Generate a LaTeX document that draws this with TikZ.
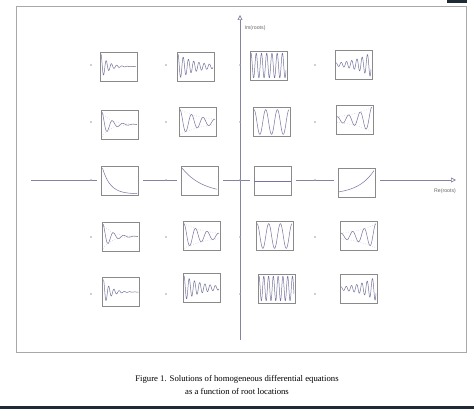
\documentclass[tikz,border=0pt]{standalone}
\usepackage{fontspec}
\setmainfont{Liberation Serif}
\newfontfamily\lsans{Liberation Sans}
\usetikzlibrary{arrows.meta}
\definecolor{framec}{HTML}{A8A8A8}
\definecolor{boxc}{HTML}{8A8A8A}
\definecolor{wavec}{HTML}{74749E}
\definecolor{envc}{HTML}{B8B8B8}
\definecolor{axisc}{HTML}{8484A0}
\definecolor{dotc}{HTML}{A0A0A0}
\definecolor{darkc}{HTML}{1E2A36}
\tikzset{
  wbox/.style={draw=boxc, fill=white, line width=0.8pt, minimum width=37pt, minimum height=29pt, inner sep=0pt,
    preaction={draw=white, line width=9pt}},
  wave/.style={draw=wavec, line width=0.5pt, line join=round},
  envl/.style={draw=envc, line width=0.5pt, dotted},
  axisl/.style={draw=axisc, line width=0.7pt},
  rdot/.style={circle, fill=dotc, inner sep=0pt, minimum size=1.8pt},
  axlabel/.style={font=\lsans\fontsize{5.2}{6}\selectfont, text=black!60, inner sep=0pt}
}
% #1 cx, #2 cy, #3 sigma, #4 omega, #5 shift
\newcommand\wv[5]{\draw[wave] plot[domain=0:1,samples=260] ({#1-17.5+35*\x},{#2-12.3*exp(#3*(\x-#5))*cos(deg(#4*\x))});}
\newcommand\envl[4]{%
  \draw[envl] plot[domain=0:1,samples=40] ({#1-17.5+35*\x},{#2-12.3*exp(#3*(\x-#4))});
  \draw[envl] plot[domain=0:1,samples=40] ({#1-17.5+35*\x},{#2+12.3*exp(#3*(\x-#4))});}
\begin{document}
\begin{tikzpicture}[x=1pt,y=-1pt]
\useasboundingbox (0,0) rectangle (474,409);
\fill[white] (0,0) rectangle (474,409);
\fill[darkc] (0,405.5) rectangle (474,409);
\fill[darkc] (447,0) rectangle (467,3);
% frame
\draw[framec, line width=1pt] (16,7) rectangle (466,352);
% axes
\coordinate (xs) at (31,180);
\coordinate (xe) at (456,180);
\coordinate (ys) at (240,340);
\coordinate (ye) at (240,15);
\draw[axisl, -{Triangle[open, length=5pt, width=5pt]}] (xs) -- (xe);
\draw[axisl, -{Triangle[open, length=5pt, width=5pt]}] (ys) -- (ye);
\node[axlabel, anchor=west] (imlab) at (244.5,28) {Im(roots)};
\node[axlabel] (relab) at (445,191) {Re(roots)};
% dots
\foreach \xx in {91,166,240,315}{
  \foreach \yy in {65,122,180,237,294}{
    \node[rdot] at (\xx,\yy) {};
  }
}
% row 1
\node[wbox] (b11) at (118.5,66.5) {};
\node[wbox] (b12) at (195.5,66.5) {};
\node[wbox] (b13) at (268.5,65.5) {};
\node[wbox] (b14) at (353.5,64.5) {};
\wv{118.5}{66.5}{-5}{42}{0}
\wv{195.5}{66.5}{-1.8}{42}{0}
\wv{268.5}{65.5}{0}{42}{0}
\wv{353.5}{64.5}{2}{42}{1}
% row 2
\node[wbox] (b21) at (119.5,124.5) {};
\node[wbox] (b22) at (197.5,122) {};
\node[wbox] (b23) at (271.5,122) {};
\node[wbox] (b24) at (354.5,119.5) {};
\envl{119.5}{124.5}{-4}{0}
\envl{197.5}{122}{-1.5}{0}
\envl{354.5}{119.5}{1.5}{1}
\wv{119.5}{124.5}{-4}{21}{0}
\wv{197.5}{122}{-1.5}{19}{0}
\wv{271.5}{122}{0}{18.8}{0}
\wv{354.5}{119.5}{1.5}{19}{1}
% row 3
\node[wbox] (b31) at (120,181) {};
\node[wbox] (b32) at (199.5,181) {};
\node[wbox] (b33) at (272.5,181) {};
\node[wbox] (b34) at (356.5,182.5) {};
\draw[wave] plot[domain=0:1,samples=100] ({120-17.5+35*\x},{181+13-26*exp(-4.5*\x)});
\draw[wave] plot[domain=0:1,samples=100] ({199.5-17.5+35*\x},{181+13-26*exp(-1.7*\x)});
\draw[wave] (254,181) -- (291,181);
\draw[wave] plot[domain=0:1,samples=100] ({356.5-17.5+35*\x},{182.5+12-24*exp(2.2*(\x-1))});
% row 4
\node[wbox] (b41) at (120.5,236.5) {};
\node[wbox] (b42) at (201.5,236) {};
\node[wbox] (b43) at (274.5,236) {};
\node[wbox] (b44) at (358.5,236) {};
\envl{120.5}{236.5}{-4}{0}
\envl{201.5}{236}{-1.5}{0}
\envl{358.5}{236}{1.5}{1}
\wv{120.5}{236.5}{-4}{21}{0}
\wv{201.5}{236}{-1.5}{19}{0}
\wv{274.5}{236}{0}{18.8}{0}
\wv{358.5}{236}{1.5}{19}{1}
% row 5
\node[wbox] (b51) at (121,292) {};
\node[wbox] (b52) at (201.5,288) {};
\node[wbox] (b53) at (276.5,288.5) {};
\node[wbox] (b54) at (358.5,288.5) {};
\wv{121}{292}{-5}{42}{0}
\wv{201.5}{288}{-1.8}{42}{0}
\wv{276.5}{288.5}{0}{46}{0}
\wv{358.5}{288.5}{2}{42}{1}
% caption
\node[font=\fontsize{8.7}{13}\selectfont, align=center, inner sep=0pt] (cap) at (237,384.5)
  {Figure 1. Solutions of homogeneous differential equations\\as a function of root locations};
\end{tikzpicture}
\end{document}
